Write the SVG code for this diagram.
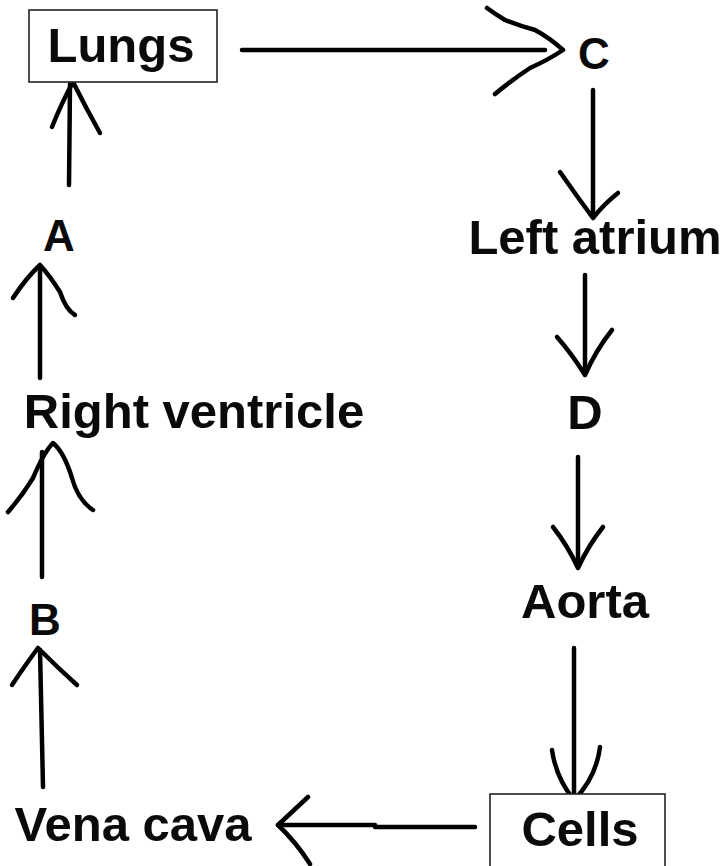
<svg xmlns="http://www.w3.org/2000/svg" width="720" height="866" viewBox="0 0 720 866">
<style>
text{font-family:"Liberation Sans",Arial,sans-serif;font-weight:bold;fill:#0a0a0a;text-anchor:middle}
.big{font-size:49px}
.sm{font-size:44px}
.box{fill:#fff;stroke:#222;stroke-width:1.6}
.ln{fill:none;stroke:#000;stroke-width:4.5;stroke-linecap:round;stroke-linejoin:round}
</style>
<rect width="720" height="866" fill="#fff"/>
<g id="connectors">
<path class="ln" d="M242,50 L545,50"/>
<path class="ln" d="M487,8 Q495,14 505,20 Q520,26 535,30 Q550,38 563,50 Q548,60 530,68 Q512,80 495,94"/>
<path class="ln" d="M593,90 L593,216"/>
<path class="ln" d="M560,172 Q576,195 593,218 Q604,204 618,193"/>
<path class="ln" d="M585,275 L585,372"/>
<path class="ln" d="M557,337 Q572,354 585,375 Q596,350 612,330"/>
<path class="ln" d="M578,457 L578,565"/>
<path class="ln" d="M553,527 Q568,546 578,568 Q588,546 603,527"/>
<path class="ln" d="M574,648 L574,797"/>
<path class="ln" d="M552,750 Q556,778 574,800 Q596,778 600,747"/>
<path class="ln" d="M375,827 L475,827"/>
<path class="ln" d="M278,825 L375,825"/>
<path class="ln" d="M308,797 Q292,812 278,825 Q296,842 310,864"/>
<path class="ln" d="M43,787 L40,650"/>
<path class="ln" d="M12,685 Q26,664 38,648 Q58,668 77,685"/>
<path class="ln" d="M42,577 L42,452"/>
<path class="ln" d="M8,512 Q22,496 33,478 Q44,452 53,443 Q64,452 72,478 Q78,500 93,510"/>
<path class="ln" d="M40,378 L40,267"/>
<path class="ln" d="M13,298 Q26,278 40,265 Q50,276 60,292 Q66,310 75,315"/>
<path class="ln" d="M69,185 L70,84"/>
<path class="ln" d="M52,127 Q62,102 73,82 Q86,108 100,133"/>
</g>
<g id="lungs">
<rect class="box" x="29" y="10" width="188" height="72"/>
<text class="big" x="121" y="62">Lungs</text>
</g>
<g id="c"><text class="sm" x="594" y="69">C</text></g>
<g id="left-atrium"><text class="big" x="595" y="254">Left atrium</text></g>
<g id="d"><text class="big" x="585" y="429">D</text></g>
<g id="aorta"><text class="big" x="585" y="618">Aorta</text></g>
<g id="cells">
<rect class="box" x="490" y="794" width="175" height="78"/>
<text class="big" x="580" y="846">Cells</text>
</g>
<g id="vena-cava"><text class="big" x="133" y="841">Vena cava</text></g>
<g id="b"><text class="sm" x="45" y="635">B</text></g>
<g id="right-ventricle"><text class="big" x="194" y="428">Right ventricle</text></g>
<g id="a"><text class="sm" x="59" y="251">A</text></g>
</svg>
